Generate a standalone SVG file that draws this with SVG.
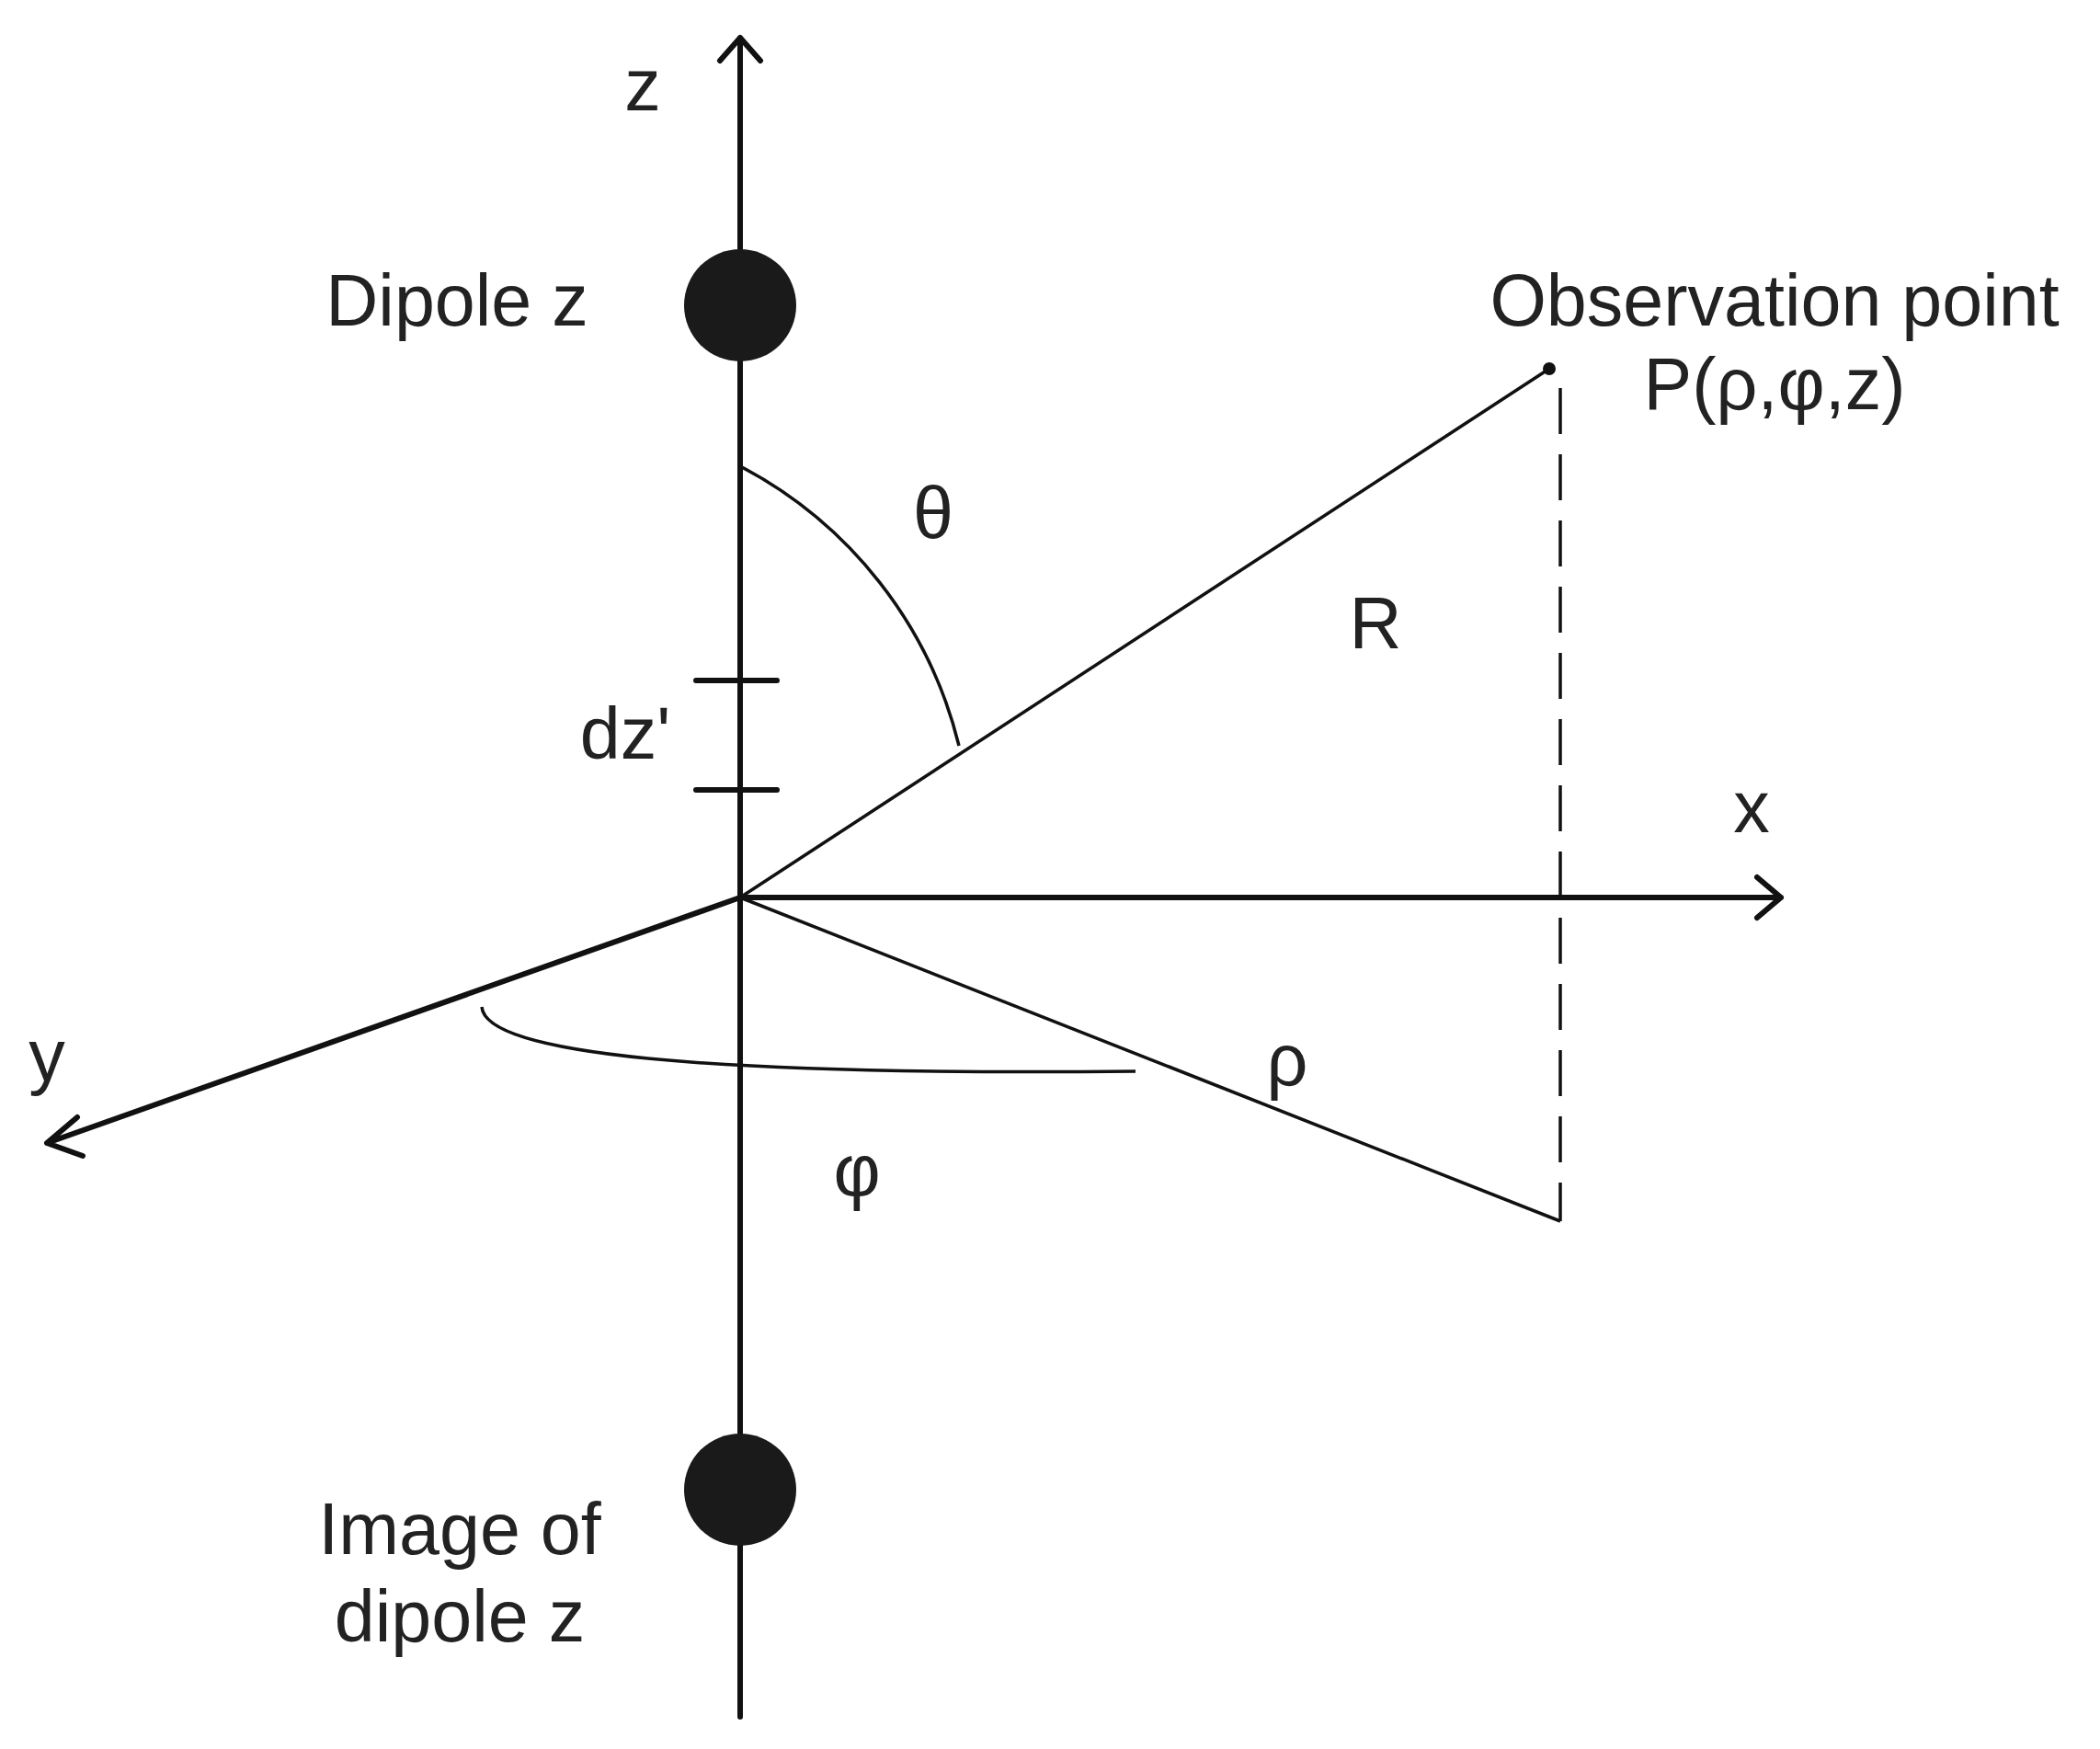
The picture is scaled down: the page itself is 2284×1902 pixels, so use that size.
<svg xmlns="http://www.w3.org/2000/svg" width="2284" height="1902" viewBox="0 0 2284 1902">
<style>
.ax{stroke:#111;stroke-width:6;fill:none;stroke-linecap:round;stroke-linejoin:round}
.th{stroke:#111;stroke-width:3.5;fill:none}
text{font-family:"Liberation Sans",Arial,sans-serif;font-size:79px;fill:#222;text-anchor:middle}
</style>
<rect width="2284" height="1902" fill="#fff"/>
<g id="connectors">
<path class="ax" d="M805 1867V41M783 66L805 41L827 66"/>
<path class="ax" d="M805 976H1937M1911 954L1937 976L1911 998"/>
<path class="ax" d="M805 976L51 1243M84 1215L51 1243L90 1257"/>
<path class="th" d="M805 976L1685 401"/>
<path class="th" d="M805 976L1697 1328"/>
<path class="th" d="M1697 422V1328" stroke-width="4" stroke-dasharray="50,22"/>
<path class="th" d="M805 507A469 469 0 0 1 1043 811"/>
<path class="th" d="M524 1095Q530 1172 1235 1165"/>
<path class="ax" d="M757 740H845M757 859H845"/>
</g>
<g id="dipole"><circle cx="805" cy="332" r="61" fill="#1a1a1a"/></g>
<g id="image"><circle cx="805" cy="1620" r="61" fill="#1a1a1a"/></g>
<g id="point"><circle cx="1685" cy="401" r="7" fill="#111"/></g>
<g id="labels">
<text x="497" y="354">Dipole z</text>
<text x="1930" y="354">Observation point</text>
<text x="1930" y="445">P(ρ,φ,z)</text>
<text x="1015" y="585">θ</text>
<text x="1496" y="705">R</text>
<text x="680" y="825">dz'</text>
<text x="1905" y="905">x</text>
<text x="51" y="1175">y</text>
<text x="1400" y="1180">ρ</text>
<text x="932" y="1300">φ</text>
<text x="500" y="1690">Image of</text>
<text x="500" y="1785">dipole z</text>
<text x="699" y="120">z</text>
</g>
</svg>
